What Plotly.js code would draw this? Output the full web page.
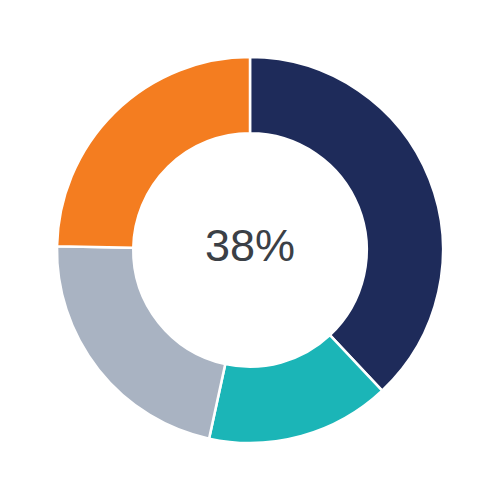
<!DOCTYPE html>
<html>
<head>
<meta charset="utf-8">
<script src="https://cdn.plot.ly/plotly-3.0.1.min.js"></script>
<style>html,body{margin:0;padding:0;background:#fff;}#chart{width:500px;height:500px;}</style>
</head>
<body>
<div id="chart"></div>
<script>
const labels = ["Segment A", "Segment B", "Segment C", "Segment D"];
const values = [38, 15.4, 21.9, 24.7];
const colors = ["#1e2b5a", "#1bb5b7", "#a9b3c2", "#f47d20"];
const centerLabel = "38%";

Plotly.newPlot("chart", [{
  type: "pie",
  labels: labels,
  values: values,
  hole: 0.605,
  sort: false,
  direction: "clockwise",
  rotation: 0,
  textinfo: "none",
  hoverinfo: "none",
  marker: { colors: colors, line: { color: "#ffffff", width: 2.5 } }
}], {
  width: 500,
  height: 500,
  margin: { l: 57, r: 57, t: 57, b: 57 },
  showlegend: false,
  paper_bgcolor: "#ffffff",
  annotations: [{
    text: centerLabel,
    x: 0.5, y: 0.5, xref: "paper", yref: "paper",
    yshift: 5,
    showarrow: false,
    font: { family: "Liberation Sans, Arial, sans-serif", size: 45, color: "#3b4046" }
  }]
}, { displayModeBar: false, staticPlot: true });
</script>
</body>
</html>
